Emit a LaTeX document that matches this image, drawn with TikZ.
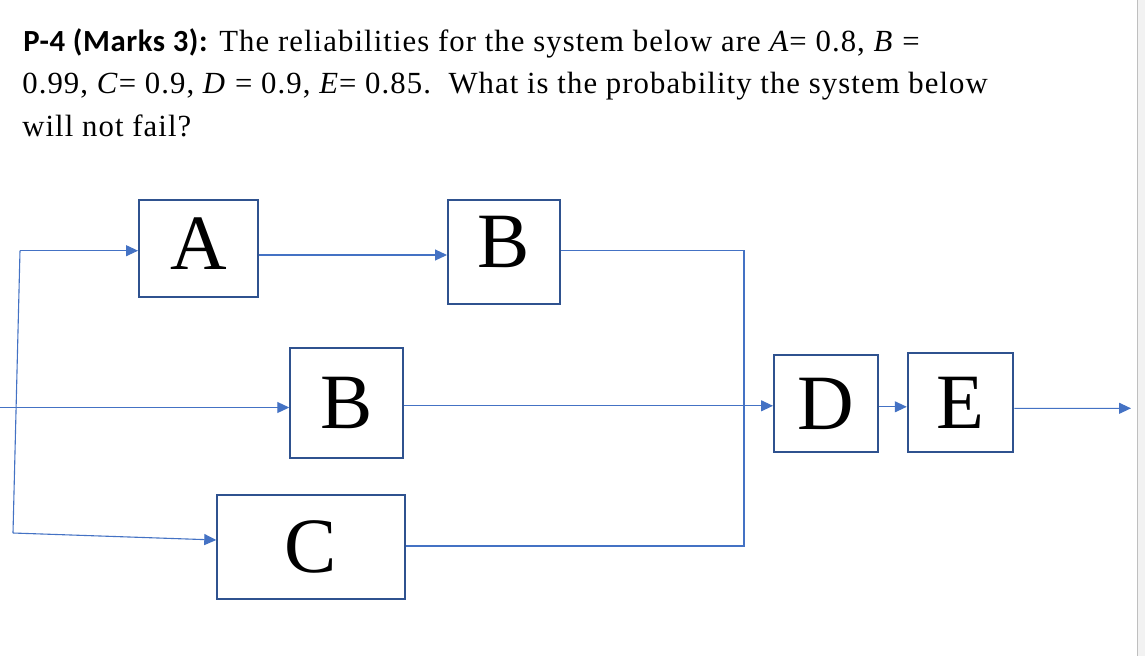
\documentclass[tikz,border=0pt]{standalone}
\usepackage{fontspec}
\setmainfont{Liberation Serif}
\newfontfamily\titlefont[LetterSpace=3.5]{Liberation Serif}
\newfontfamily\titlebold[LetterSpace=2]{Carlito}
\usetikzlibrary{arrows.meta,calc}
\definecolor{boxblue}{HTML}{2F528F}
\definecolor{linkblue}{HTML}{4472C4}
\tikzset{
  blk/.style={draw=boxblue, line width=0.04cm, fill=white, inner sep=0pt,
    font=\fontsize{44.6}{50}\selectfont},
  conn/.style={draw=linkblue, line width=0.022cm},
  arr/.style={conn, -{Triangle[length=0.24cm, width=0.22cm]}},
  ttl/.style={anchor=base west, inner sep=0pt, font=\titlefont\fontsize{17.5}{24}\selectfont},
}
\begin{document}
\begin{tikzpicture}[x=0.02cm, y=-0.02cm]
\fill[white] (0,0) rectangle (1145,656);
\useasboundingbox (0,0) rectangle (1145,656);
% screenshot border at right
\fill[black!5] (1138,0) rectangle (1145,656);
\draw[black!25, line width=0.03cm] (1137.5,0) -- (1137.5,656);

% title
\node[ttl] (t1) at (23,51) {{\titlebold\bfseries P-4 (Marks 3):} The reliabilities for the system below are \textit{A}= 0.8, \textit{B} =};
\node[ttl] (t2) at (22,93.5) {0.99, \textit{C}= 0.9, \textit{D} = 0.9, \textit{E}= 0.85.\ \ What is the probability the system below};
\node[ttl] (t3) at (22,136) {will not fail?};

% blocks
\node[blk, minimum width=2.38cm, minimum height=1.94cm, text depth=0.2cm] (A) at (198.5,248.5) {A};
\node[blk, minimum width=2.24cm, minimum height=2.08cm, text depth=0.4cm] (B1) at (504,252) {B};
\node[blk, minimum width=2.25cm, minimum height=2.2cm] (B2) at (346.5,403.3) {B};
\node[blk, minimum width=3.75cm, minimum height=2.08cm] (C) at (311,547) {C};
\node[blk, minimum width=2.08cm, minimum height=1.94cm] (D) at (826,403.8) {D};
\node[blk, minimum width=2.11cm, minimum height=1.99cm] (E) at (960.5,402.5) {E};

% coordinates
\coordinate (in) at (0,407.5);
\coordinate (ta) at (20,250.7);
\coordinate (tc) at (13,533);
\coordinate (j) at (744,0);
\coordinate (out) at (1131,408.3);

% connectors
\draw[conn] (ta) -- (tc);
\draw[arr] (ta) -- (ta -| A.west);
\draw[arr] (in) -- (in -| B2.west);
\draw[arr] (tc) -- ($(C.west)+(0,-7)$);
\draw[arr] ($(A.east)+(0,6.5)$) coordinate (a1) -- (a1 -| B1.west);
\draw[conn] ($(B1.east)+(0,-1.3)$) coordinate (b1) -- (b1 -| j) -- ($(C.east -| j)+(0,-1)$) -- ($(C.east)+(0,-1)$);
\draw[arr] ($(B2.east)+(0,2.5)$) coordinate (b2) -- (b2 -| D.west);
\draw[arr] ($(D.east)+(0,3)$) coordinate (d1) -- (d1 -| E.west);
\draw[arr] ($(E.east)+(0,5.8)$) -- (out);
\end{tikzpicture}
\end{document}
